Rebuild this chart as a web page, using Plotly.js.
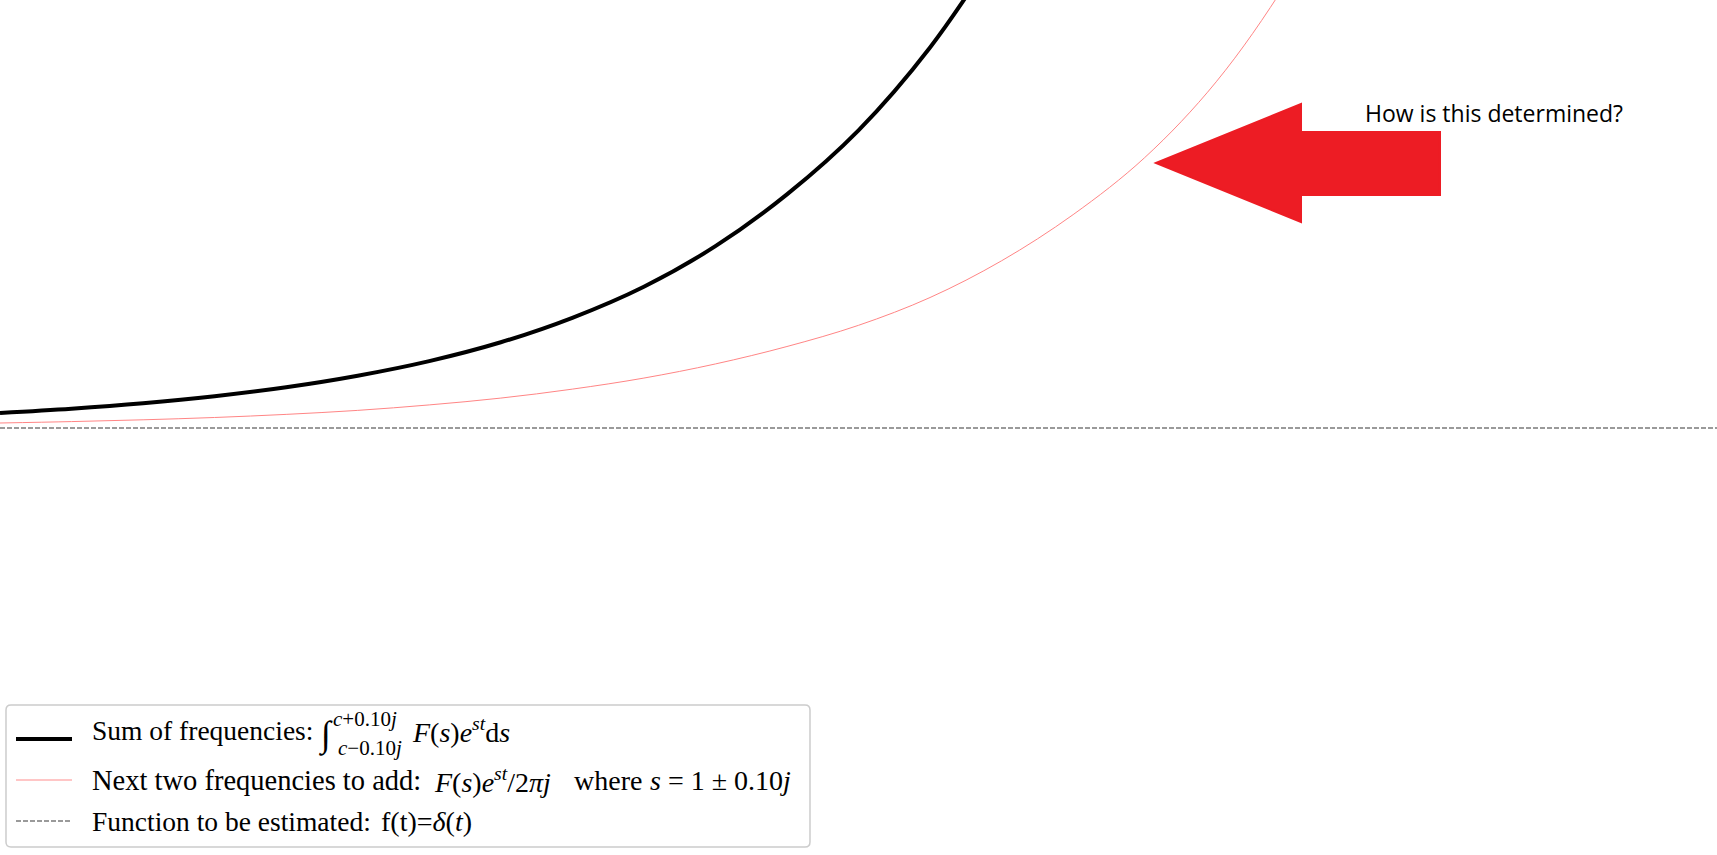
<!DOCTYPE html>
<html>
<head>
<meta charset="utf-8">
<script src="https://cdn.plot.ly/plotly-3.0.1.min.js"></script>
<style>
  html, body { margin: 0; padding: 0; background: #ffffff; }
  #chart { width: 1717px; height: 855px; }
</style>
</head>
<body>
<div id="chart"></div>
<script>
// ---- data (t, amplitude) ----
const t_sum = [0, 0.25, 0.5, 0.75, 1.0, 1.25, 1.5, 1.75, 2.0, 2.25, 2.5, 2.75, 3.0, 3.25, 3.5];
const sum_of_frequencies = [0.032, 0.041, 0.0526, 0.0675, 0.0865, 0.111, 0.142, 0.182, 0.234, 0.300, 0.386, 0.496, 0.632, 0.808, 1.03];

const t_next = [0, 0.25, 0.5, 0.75, 1.0, 1.25, 1.5, 1.75, 2.0, 2.25, 2.5, 2.75, 3.0, 3.25, 3.5, 3.75, 4.0, 4.25, 4.5, 4.75];
const next_two_frequencies = [0.0106, 0.0136, 0.0174, 0.0223, 0.0289, 0.0374, 0.049, 0.0635, 0.0825, 0.106, 0.136, 0.173, 0.218, 0.277, 0.355, 0.453, 0.574, 0.735, 0.95, 1.22];

const t_target = [0, 6];
const target_function = [0, 0];

const legendLabels = {
  sum: "Sum of frequencies:",
  next: "Next two frequencies to add:",
  target: "Function to be estimated:",
  targetMath: "f(t)=<i>δ</i>(<i>t</i>)"
};
const questionText = "How is this determined?";

// ---- layout helpers (pixel -> paper) ----
const W = 1717, H = 855;
const px = x => x / W;
const py = y => 1 - y / H;
const P = (x, y) => px(x).toFixed(5) + ',' + py(y).toFixed(5);

const traces = [
  { x: t_target, y: target_function, mode: 'lines', name: 'target',
    line: { color: '#7a7a7a', width: 1.7, dash: '5px,2px' }, hoverinfo: 'skip' },
  { x: t_next, y: next_two_frequencies, mode: 'lines', name: 'next',
    line: { color: '#ff8585', width: 1, shape: 'spline', smoothing: 1 }, hoverinfo: 'skip' },
  { x: t_sum, y: sum_of_frequencies, mode: 'lines', name: 'sum',
    line: { color: '#000000', width: 4, shape: 'spline', smoothing: 1 }, hoverinfo: 'skip' }
];

function roundRect(x0, y0, x1, y1, r) {
  return 'M' + P(x0 + r, y0) + ' L' + P(x1 - r, y0) + ' Q' + P(x1, y0) + ' ' + P(x1, y0 + r) +
         ' L' + P(x1, y1 - r) + ' Q' + P(x1, y1) + ' ' + P(x1 - r, y1) +
         ' L' + P(x0 + r, y1) + ' Q' + P(x0, y1) + ' ' + P(x0, y1 - r) +
         ' L' + P(x0, y0 + r) + ' Q' + P(x0, y0) + ' ' + P(x0 + r, y0) + ' Z';
}

const arrowPath = 'M' + P(1156, 163) + ' L' + P(1301, 104) + ' L' + P(1301, 132) + ' L' + P(1440, 132) +
                  ' L' + P(1440, 195) + ' L' + P(1301, 195) + ' L' + P(1301, 222) + ' Z';

const shapes = [
  { type: 'path', xref: 'paper', yref: 'paper', path: arrowPath,
    fillcolor: '#ED1C24', line: { color: '#ED1C24', width: 2 } },
  { type: 'path', xref: 'paper', yref: 'paper', path: roundRect(6, 705, 810, 847, 5),
    fillcolor: 'rgba(255,255,255,0.85)', line: { color: '#cccccc', width: 1.5 } },
  { type: 'line', xref: 'paper', yref: 'paper', x0: px(16), x1: px(72), y0: py(739), y1: py(739),
    line: { color: '#000000', width: 4 } },
  { type: 'line', xref: 'paper', yref: 'paper', x0: px(16), x1: px(72), y0: py(780), y1: py(780),
    line: { color: '#ffb3b3', width: 1.5 } },
  { type: 'line', xref: 'paper', yref: 'paper', x0: px(16), x1: px(72), y0: py(821), y1: py(821),
    line: { color: '#7a7a7a', width: 1.7, dash: '5px,2px' } }
];

const serif = 'Liberation Serif, Times New Roman, serif';
function ann(text, x, y, size, family) {
  return { text: text, xref: 'paper', yref: 'paper', x: px(x), y: py(y),
           xanchor: 'left', yanchor: 'middle', showarrow: false,
           font: { family: family || serif, size: size, color: '#000000' } };
}

const annotations = [
  ann(questionText, 1363, 113, 23, 'Open Sans, sans-serif'),
  ann(legendLabels.sum, 90, 730, 27.5),
  ann('∫', 317, 735, 36),
  ann('<i>c</i>+0.10<i>j</i>', 331, 719, 21),
  ann('<i>c</i>−0.10<i>j</i>', 336, 748, 21),
  ann('<i>F</i>(<i>s</i>)<i>e</i><sup><i>st</i></sup>d<i>s</i>', 410, 730, 28),
  ann(legendLabels.next, 90, 780, 28.5),
  ann('<i>F</i>(<i>s</i>)<i>e</i><sup><i>st</i></sup>/2<i>πj</i>', 432, 780, 28),
  ann('where', 572, 780, 28),
  ann('<i>s</i> = 1 ± 0.10<i>j</i>', 648, 780, 28),
  ann(legendLabels.target, 90, 821, 27.5),
  ann(legendLabels.targetMath, 379, 821, 28)
];

const layout = {
  width: W, height: H,
  margin: { l: 0, r: 0, t: 0, b: 0, pad: 0 },
  paper_bgcolor: '#ffffff', plot_bgcolor: '#ffffff',
  showlegend: false,
  xaxis: { range: [0, 6], visible: false, showgrid: false, zeroline: false, fixedrange: true },
  yaxis: { range: [-0.9066, 0.9087], visible: false, showgrid: false, zeroline: false, fixedrange: true },
  shapes: shapes,
  annotations: annotations
};

Plotly.newPlot('chart', traces, layout, { displayModeBar: false, staticPlot: true });
</script>
</body>
</html>
